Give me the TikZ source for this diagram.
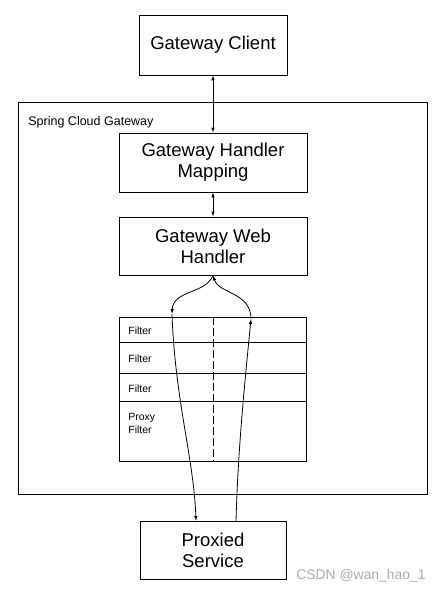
\documentclass[tikz,border=0pt]{standalone}
\usepackage{fontspec}
\setmainfont{Liberation Sans}
\usetikzlibrary{positioning}
\usetikzlibrary{arrows.meta}

\definecolor{wmgray}{RGB}{170,170,170}

\tikzset{
  box/.style={draw, align=center, inner sep=0pt, font=\fontsize{18.5}{21}\selectfont},
  row/.style={draw, anchor=north west, minimum width=187pt, inner sep=0pt},
  tag/.style={font=\fontsize{10.5}{13}\selectfont, align=left, inner sep=0pt},
  wmark/.style={font=\fontsize{13.9}{16}\selectfont, text=wmgray, inner sep=0pt}
}

\begin{document}
\begin{tikzpicture}[x=1pt, y=-1pt, line width=0.8pt, >={Latex[length=5pt,width=3.5pt]}]
  \useasboundingbox (0,0) rectangle (441,592);

  % outer frame
  \node[draw, minimum width=409pt, minimum height=392pt] (gateway) at (222.5,298) {};
  \node[font=\fontsize{12.5}{15}\selectfont, inner sep=0pt, anchor=west] (title) at (28,122) {Spring Cloud Gateway};

  \node[box, minimum width=148pt, minimum height=60pt] (client) at (213,45) {Gateway Client};
  \node[box, minimum width=188pt, minimum height=59pt] (mapping) at (213,162.5) {Gateway Handler\\Mapping};
  \node[box, minimum width=188pt, minimum height=58pt] (web) at (213,246) {Gateway Web\\Handler};
  \node[box, minimum width=146pt, minimum height=58pt] (proxied) at (213,550) {Proxied\\Service};

  % filter chain
  \node[row, minimum height=25pt] (f1) at (119,317) {};
  \node[row, minimum height=31pt] (f2) at (119,342) {};
  \node[row, minimum height=28pt] (f3) at (119,373) {};
  \node[row, minimum height=60pt] (proxy) at (119,401) {};
  \node[tag, anchor=west] (t1) at ([xshift=9pt, yshift=-1pt]f1.west) {Filter};
  \node[tag, anchor=west] (t2) at ([xshift=9pt, yshift=-1pt]f2.west) {Filter};
  \node[tag, anchor=west] (t3) at ([xshift=9pt, yshift=-1pt]f3.west) {Filter};
  \node[tag, anchor=north west, below right=12pt and 9pt of proxy.north west] (t4) {Proxy\\Filter};
  \draw[dash pattern=on 8pt off 3pt] (f1.north) -- (proxy.south);

  \draw[<->] (client.south) -- (mapping.north);
  \draw[<->] (mapping.south) -- (web.north);

  \coordinate (lj) at (172,314);
  \coordinate (rj) at (251,319);
  \coordinate (ld) at (196,521);
  \coordinate (ru) at (236,521);

  \draw[->] (web.south) .. controls (206,294) and (173,290) .. (lj);
  \draw[->] (rj) .. controls (251,292) and (219,294) .. (web.south);
  \draw[->] (lj) .. controls (175,400) and (194,460) .. (ld);
  \draw[->] (ru) .. controls (238,450) and (244,390) .. (rj);

  \node[wmark] (csdn) at (361,576) {CSDN @wan\_hao\_1};
\end{tikzpicture}
\end{document}
